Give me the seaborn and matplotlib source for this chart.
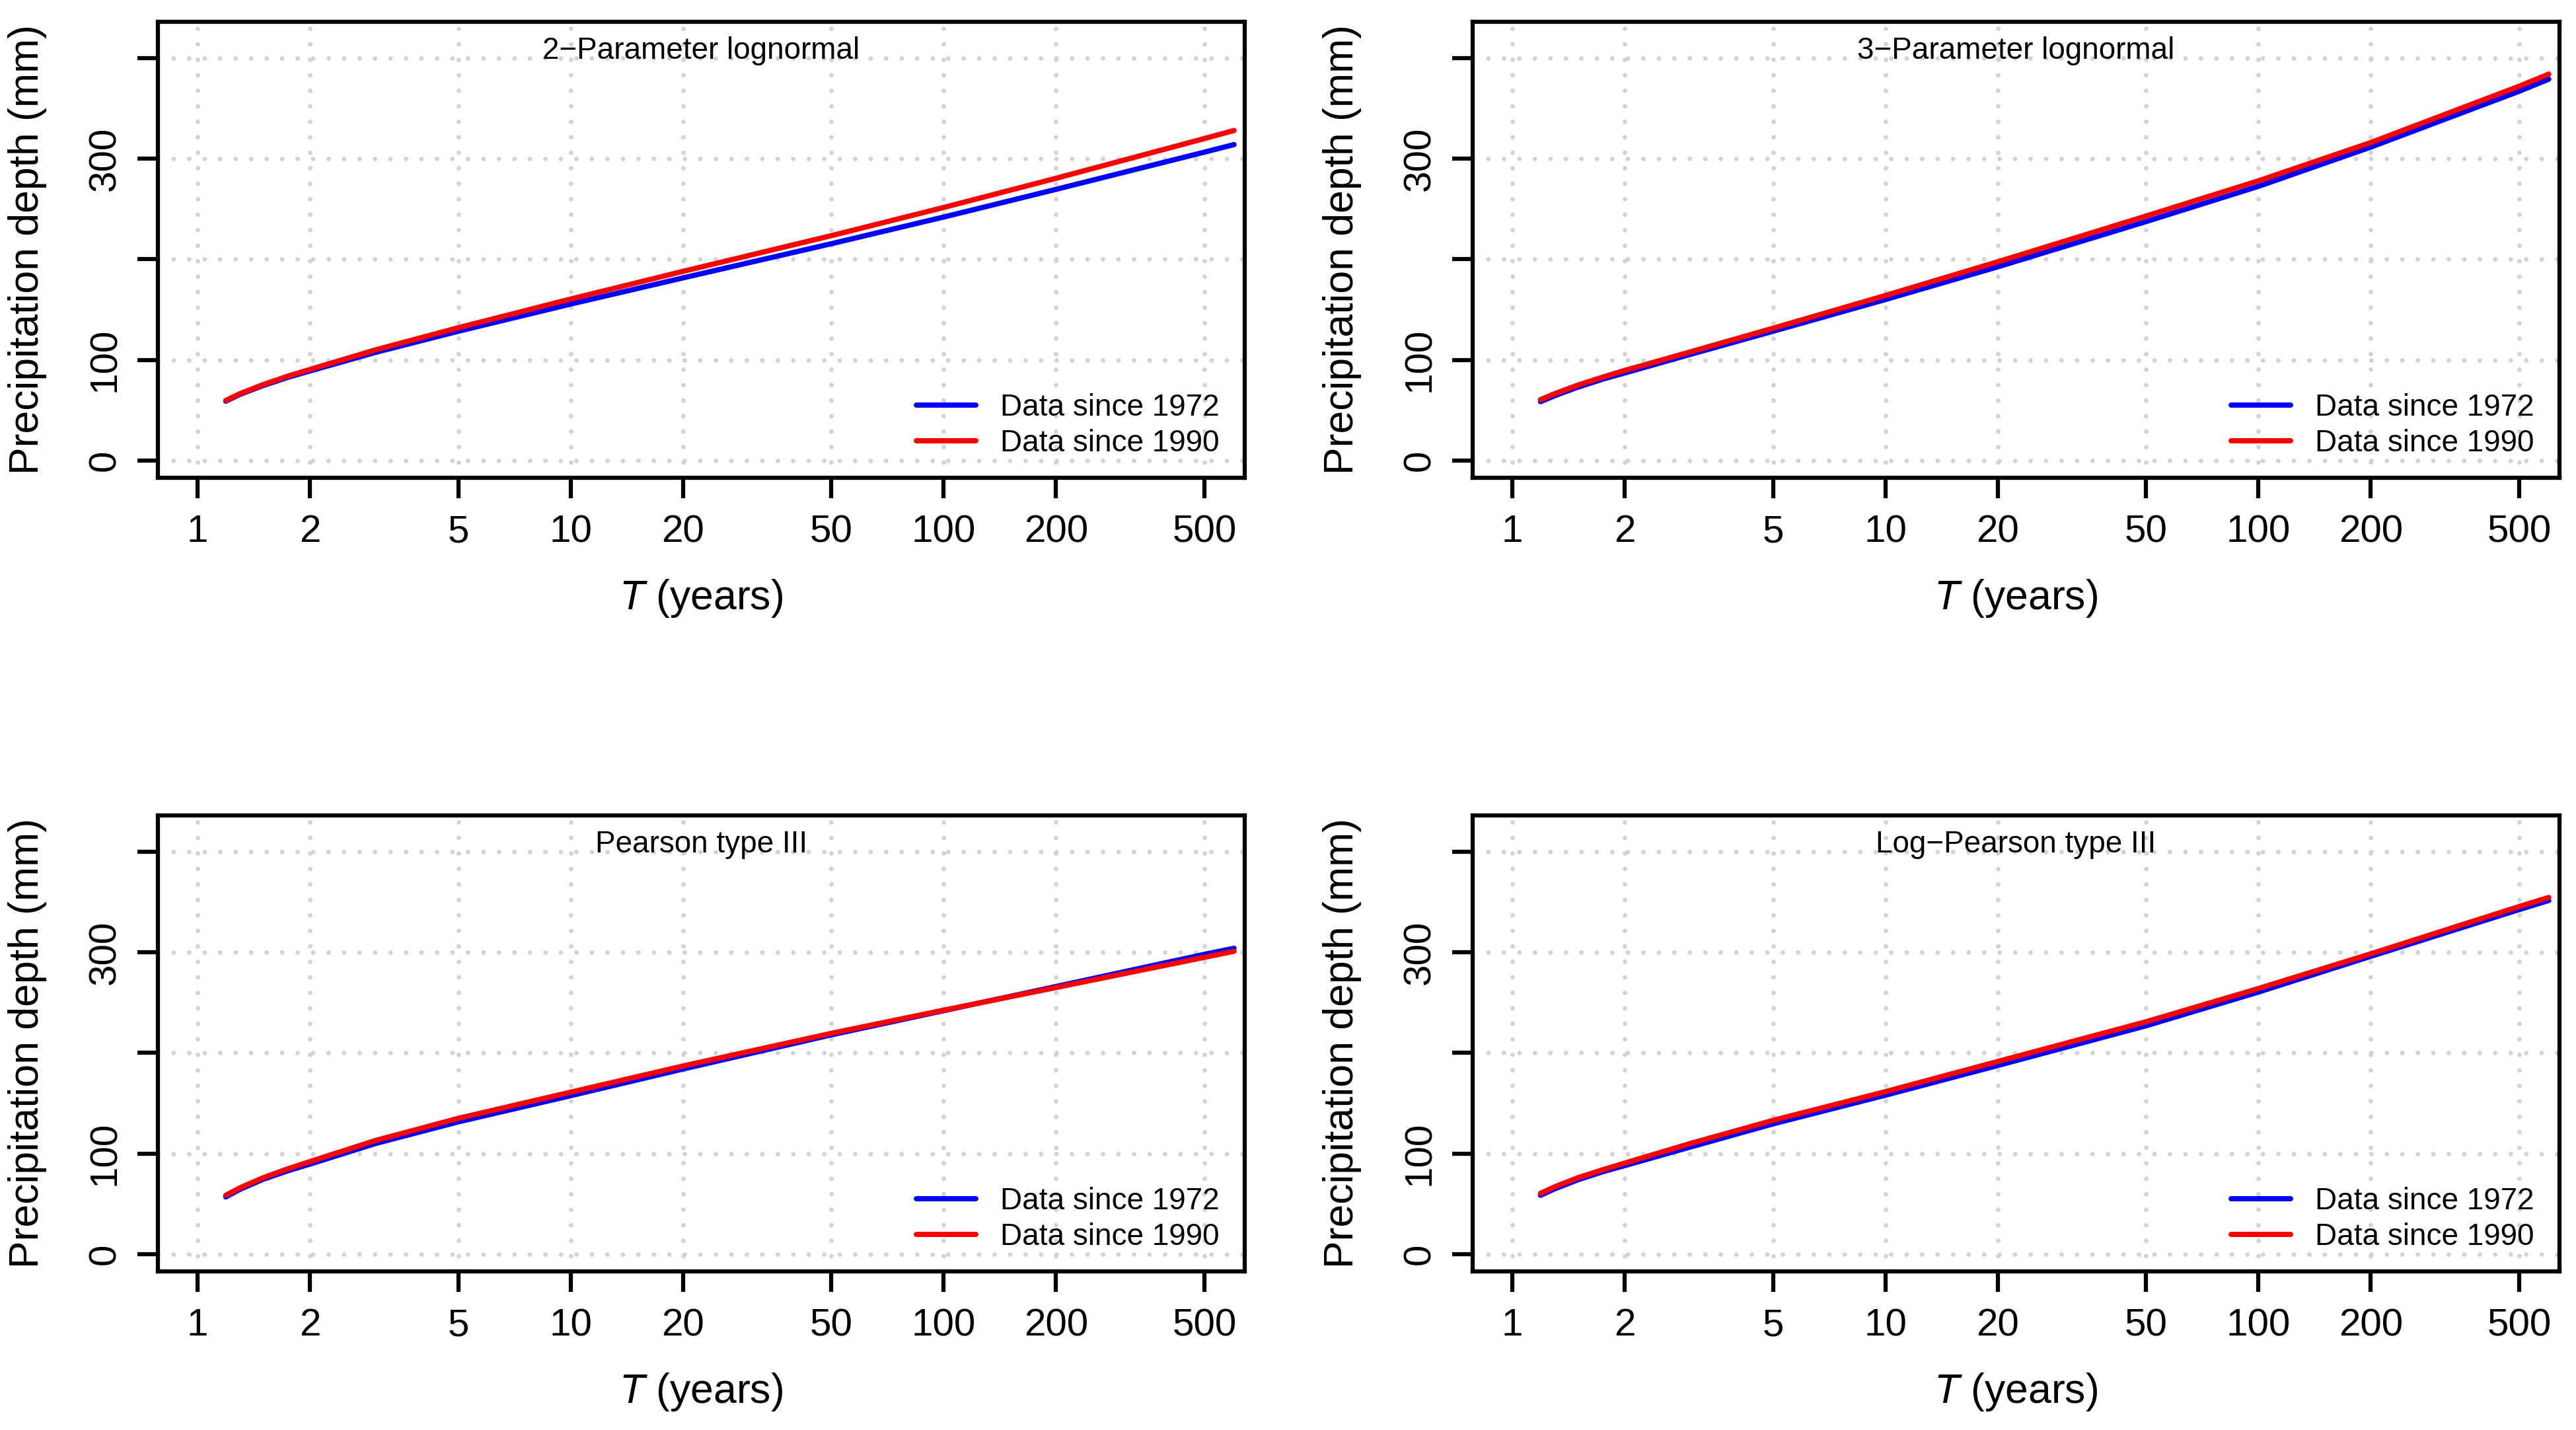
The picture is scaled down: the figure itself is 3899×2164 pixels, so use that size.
import numpy as np
import pandas as pd
import matplotlib
matplotlib.use("Agg")
import matplotlib.pyplot as plt
import seaborn as sns
from matplotlib.lines import Line2D

# ---------------- data ----------------
T_years = [1.19, 1.3, 1.5, 1.75, 2, 3, 5, 10, 20, 50, 100, 200, 500, 600]

ln2_1972 = [59.0, 65.8, 74.6, 82.8, 89.0, 107.5, 128.5, 155.5, 181.5, 215.5, 242.0, 269.5, 306.5, 314.0]
ln2_1990 = [59.7, 66.5, 75.5, 84.0, 90.5, 110.0, 132.0, 160.5, 188.0, 223.5, 251.5, 280.5, 320.0, 328.0]

ln3_1972 = [58.5, 64.5, 73.0, 81.0, 87.0, 105.5, 128.5, 160.0, 192.5, 237.5, 272.5, 311.5, 367.0, 379.0]
ln3_1990 = [60.5, 66.5, 75.0, 83.0, 89.5, 108.0, 131.5, 164.0, 197.5, 243.0, 278.0, 316.0, 372.0, 384.0]

p3_1972 = [56.9, 64.5, 74.5, 83.0, 89.5, 110.0, 131.5, 157.5, 184.0, 218.0, 242.0, 266.0, 298.0, 304.0]
p3_1990 = [58.5, 66.0, 76.0, 85.0, 92.0, 113.0, 135.0, 161.0, 187.0, 219.5, 242.5, 265.0, 295.0, 301.0]

lp3_1972 = [58.5, 65.0, 74.0, 82.0, 88.0, 106.5, 129.5, 158.0, 187.5, 227.0, 260.5, 296.0, 342.5, 351.5]
lp3_1990 = [60.5, 67.0, 76.0, 84.0, 90.5, 110.0, 133.0, 161.5, 191.5, 231.0, 264.0, 298.5, 345.5, 354.5]

panel_titles = ["2\u2212Parameter lognormal", "3\u2212Parameter lognormal",
                "Pearson type III", "Log\u2212Pearson type III"]
series_names = ["Data since 1972", "Data since 1990"]
series_colors = ["#0000FF", "#FF0000"]

x_ticks = [1, 2, 5, 10, 20, 50, 100, 200, 500]
x_tick_labels = ["1", "2", "5", "10", "20", "50", "100", "200", "500"]
y_ticks = [0, 100, 200, 300, 400]
y_tick_labels = ["0", "100", "", "300", ""]

panel_data = [(ln2_1972, ln2_1990), (ln3_1972, ln3_1990),
              (p3_1972, p3_1990), (lp3_1972, lp3_1990)]

# ---------------- style ----------------
sns.set_style("white")
plt.rcParams["font.family"] = ["Liberation Sans", "DejaVu Sans"]
plt.rcParams["mathtext.fontset"] = "custom"
plt.rcParams["mathtext.it"] = "Liberation Sans:italic"
plt.rcParams["mathtext.rm"] = "Liberation Sans"
for key in ["text.color", "axes.labelcolor", "xtick.color", "ytick.color"]:
    plt.rcParams[key] = "black"

W, H = 3899, 2164
fig = plt.figure(figsize=(W / 300, H / 300), dpi=300)
fig.patch.set_facecolor("white")

lefts = [239, 2229, 239, 2229]
tops = [33, 33, 1234, 1234]
aw, ah = 1645, 690

frame_lw = 1.5
curve_lw = 1.9
for i in range(4):
    l = lefts[i] / W
    b = 1 - (tops[i] + ah) / H
    ax = fig.add_axes([l, b, aw / W, ah / H])
    a1972, a1990 = panel_data[i]
    df = pd.DataFrame({
        "T": T_years * 2,
        "depth": list(a1972) + list(a1990),
        "series": [series_names[0]] * len(T_years) + [series_names[1]] * len(T_years),
    })
    ax.set_xscale("log")
    sns.lineplot(data=df, x="T", y="depth", hue="series", hue_order=series_names,
                 palette=dict(zip(series_names, series_colors)), linewidth=curve_lw,
                 legend=False, ax=ax, zorder=3)
    ax.set_xlim(0.783, 641)
    ax.set_ylim(-17.1, 436)
    ax.set_xticks(x_ticks)
    ax.set_xticklabels(x_tick_labels)
    ax.xaxis.set_minor_locator(matplotlib.ticker.NullLocator())
    ax.set_yticks(y_ticks)
    ax.set_yticklabels(y_tick_labels)
    ax.set_xlabel("")
    ax.set_ylabel("")
    ax.set_axisbelow(True)
    ax.grid(True, color="#D3D3D3", linestyle=(0, (0.01, 3.4)), linewidth=1.65,
            dash_capstyle="round")
    for sp in ax.spines.values():
        sp.set_visible(True)
        sp.set_linewidth(frame_lw)
        sp.set_color("black")
    ax.tick_params(axis="both", which="major", direction="out", length=7.5,
                   width=frame_lw, color="black", labelsize=14,
                   bottom=True, left=True, top=False, right=False,
                   labelbottom=True, labelleft=True)
    ax.tick_params(axis="x", pad=5.8)
    ax.tick_params(axis="y", pad=5.2, labelrotation=90)
    for lab in ax.get_yticklabels():
        lab.set_verticalalignment("center")
    ax.text(0.5, 0.936, panel_titles[i], transform=ax.transAxes,
            ha="center", va="center", fontsize=11)
    ax.text(0.5, -0.264, "$T$ (years)", transform=ax.transAxes,
            ha="center", va="center", fontsize=15)
    ax.text(-0.1198, 0.5, "Precipitation depth (mm)", transform=ax.transAxes,
            ha="center", va="center", rotation=90, fontsize=15)
    handles = [Line2D([], [], color=c, lw=curve_lw) for c in series_colors]
    ax.legend(handles, series_names, loc="lower right",
              bbox_to_anchor=(0.9763, 0.0435), frameon=False, fontsize=11,
              handlelength=1.96, handletextpad=0.8, labelspacing=0.21,
              borderpad=0, borderaxespad=0)

fig.savefig("out.png", dpi=300, facecolor="white")
